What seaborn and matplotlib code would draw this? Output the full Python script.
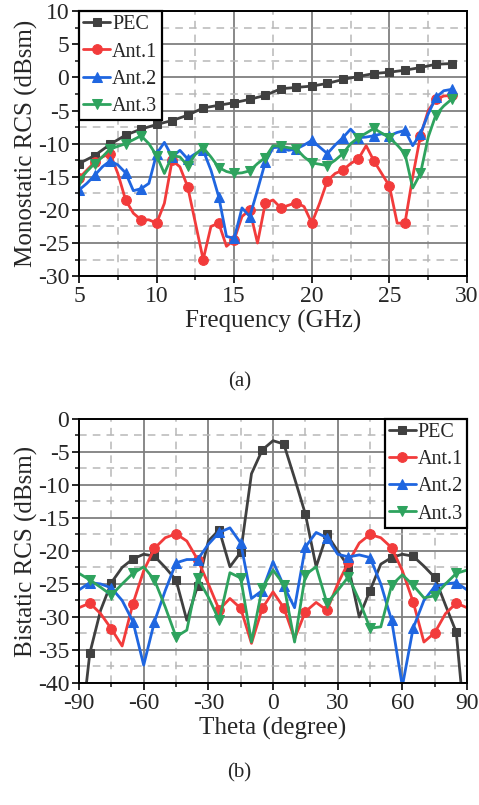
import numpy as np
import pandas as pd
import matplotlib
matplotlib.use("Agg")
import matplotlib.pyplot as plt
import seaborn as sns
from matplotlib.ticker import MultipleLocator

# (a) monostatic RCS vs frequency
freq_pec = list(range(5, 30))
pec_a = [-13, -11.8, -10.1, -8.7, -7.8, -7.1, -6.5, -5.7, -4.6, -4.2, -3.8, -3.3, -2.7,
         -1.7, -1.5, -1.3, -0.9, -0.3, 0.15, 0.6, 0.8, 1.1, 1.5, 2.0, 2.1]

freq_ant = [5 + 0.5 * i for i in range(49)]
ant1_a = [-15.2, -14, -12.8, -12, -11.5, -14.5, -18.5, -20.5, -21.5, -21.5, -22, -19,
          -12.5, -13.5, -16.5, -22, -27.5, -22.5, -22, -25.5, -24.5, -21, -20, -25,
          -19, -18.5, -19.7, -19.3, -18.9, -19.5, -22, -19, -15.6, -14.5, -14, -13,
          -12.3, -10.3, -12.6, -14.5, -16.4, -22, -22, -15, -8.8, -5, -3.3, -2.8, -2.7]
ant2_a = [-17, -16, -14.8, -13.5, -12.6, -13.2, -14.4, -17.1, -16.8, -16, -11.5, -9.8,
          -12, -11, -12.3, -11.5, -11, -14, -18, -24, -24.3, -19.7, -21, -17,
          -12.8, -10.6, -10.5, -11, -10.8, -10.2, -9.5, -10.5, -11.5, -10.2, -9.1, -7.8,
          -9.1, -9, -8.8, -8.5, -8.8, -8.3, -8, -10.3, -8.5, -5.5, -3, -2, -1.8]
ant3_a = [-15.6, -14.2, -13, -12, -10.8, -10.4, -10, -9.4, -8.8, -10, -11.8, -14.5,
          -11.8, -12, -13.3, -11.6, -10.6, -12, -13.6, -14.2, -14.5, -14.4, -14.1, -13,
          -12.1, -10.3, -10.4, -10.6, -10.8, -12, -12.9, -13.1, -13.3, -12.5, -11.5, -10,
          -9.1, -8.4, -7.7, -8.4, -9.1, -10.2, -11.5, -16.7, -14.5, -9, -5.6, -4.3, -3.3]

# (b) bistatic RCS vs theta
theta = list(range(-90, 91, 5))
pec_b = [-50, -35.5, -29, -24.8, -22.5, -21.2, -20.5, -20.8, -22.5, -24.4, -30.5, -25.3,
         -18.5, -16.8, -22.4, -20.2, -8.3, -4.7, -3.3, -3.8, -9, -14.4, -22.4, -17.5,
         -20, -22.4, -30, -26, -22, -21, -20.5, -20.8, -22.3, -24, -28.2, -32.3, -50]
ant1_b = [-28.6, -27.9, -29.5, -31.8, -34.4, -28, -23, -19.6, -18, -17.4, -18.5, -21.3,
          -25, -28.9, -27.2, -28.7, -34, -28.7, -26.2, -28.6, -33.3, -29.2, -27.8, -29,
          -25, -21.7, -18.8, -17.5, -18, -19.5, -23, -27.7, -33.8, -32.4, -29.5, -27.9, -28.6]
ant2_b = [-25.9, -24.8, -25, -25.6, -27.5, -30.7, -37.3, -30.7, -26, -21.8, -21.3, -21.3,
          -19, -17.2, -16.5, -18.8, -27.2, -26, -21.6, -25.3, -28.6, -19.4, -17.2, -18,
          -20.5, -20.9, -20.6, -21, -25, -30.5, -40.5, -31.7, -27.5, -25.4, -25, -24.8, -25.9]
ant3_b = [-23.4, -24.4, -25.5, -26.7, -25, -23.4, -22.4, -24.4, -28.5, -33, -32, -24.1,
          -27, -30.5, -23.3, -24.1, -33.8, -25.6, -22.9, -25.1, -33.8, -23.6, -22.4, -27.9,
          -26, -23.9, -27.5, -31.7, -31.5, -25.2, -23.6, -25.2, -27.1, -26.8, -25, -23.4, -22.9]

labels = ["PEC", "Ant.1", "Ant.2", "Ant.3"]
colors = ["#404040", "#f23b3b", "#1f66e0", "#2ea35e"]
markers = ["s", "o", "^", "v"]
msizes = [5.5, 7, 7, 7]

sns.set_style("white")
plt.rcParams["font.family"] = ["Liberation Serif", "DejaVu Serif"]
plt.rcParams["axes.unicode_minus"] = False

fig = plt.figure(figsize=(4.79, 8.05), dpi=100)
ax1 = fig.add_axes([0.165, 0.657, 0.81, 0.329])
ax2 = fig.add_axes([0.165, 0.1516, 0.81, 0.328])


def draw(ax, xs_list, ys_list, every_list):
    for xs, ys, lab, c, m, ms, ev in zip(xs_list, ys_list, labels, colors, markers, msizes, every_list):
        df = pd.DataFrame({"x": xs, "y": ys})
        sns.lineplot(data=df, x="x", y="y", ax=ax, color=c, marker=m, markersize=ms,
                     markeredgecolor=c, markevery=ev, linewidth=2.0, label=lab)


def style(ax, xmaj, xmin, ymaj, ymin):
    ax.xaxis.set_major_locator(MultipleLocator(xmaj))
    ax.xaxis.set_minor_locator(MultipleLocator(xmin))
    ax.yaxis.set_major_locator(MultipleLocator(ymaj))
    ax.yaxis.set_minor_locator(MultipleLocator(ymin))
    ax.grid(which="major", color="#7f7f7f", lw=1.3, ls="-")
    ax.grid(which="minor", color="#b8b8b8", lw=1.1, ls=(0, (5, 4)))
    ax.set_axisbelow(True)
    for s in ax.spines.values():
        s.set_color("black")
        s.set_linewidth(1.4)
    ax.tick_params(which="major", direction="out", length=5, width=1.4,
                   labelsize=17, bottom=True, left=True, pad=2)
    ax.tick_params(which="minor", direction="out", length=3, width=1.2, bottom=True, left=True)


def legend(ax, loc):
    leg = ax.legend(loc=loc, borderaxespad=0, fontsize=14.5, handlelength=1.35,
                    handletextpad=0.1, labelspacing=0.4, borderpad=0.2, fancybox=False,
                    framealpha=1, edgecolor="black")
    leg.get_frame().set_linewidth(1.6)


draw(ax1, [freq_pec, freq_ant, freq_ant, freq_ant], [pec_a, ant1_a, ant2_a, ant3_a], [1, 2, 2, 2])
ax1.set_xlim(5, 30)
ax1.set_ylim(-30, 10)
style(ax1, 5, 2.5, 5, 2.5)
ax1.set_xlabel("Frequency (GHz)", fontsize=18, labelpad=2)
ax1.set_ylabel("Monostatic RCS (dBsm)", fontsize=18, labelpad=0)
legend(ax1, "upper left")

draw(ax2, [theta] * 4, [pec_b, ant1_b, ant2_b, ant3_b], [(1, 2)] * 4)
ax2.set_xlim(-90, 90)
ax2.set_ylim(-40, 0)
style(ax2, 30, 15, 5, 2.5)
ax2.set_xlabel("Theta (degree)", fontsize=18, labelpad=2)
ax2.set_ylabel("Bistatic RCS (dBsm)", fontsize=18, labelpad=0)
legend(ax2, "upper right")

fig.text(0.5, 0.526, "(a)", ha="center", va="center", fontsize=15)
fig.text(0.5, 0.040, "(b)", ha="center", va="center", fontsize=15)

fig.savefig("out.png", dpi=100)
